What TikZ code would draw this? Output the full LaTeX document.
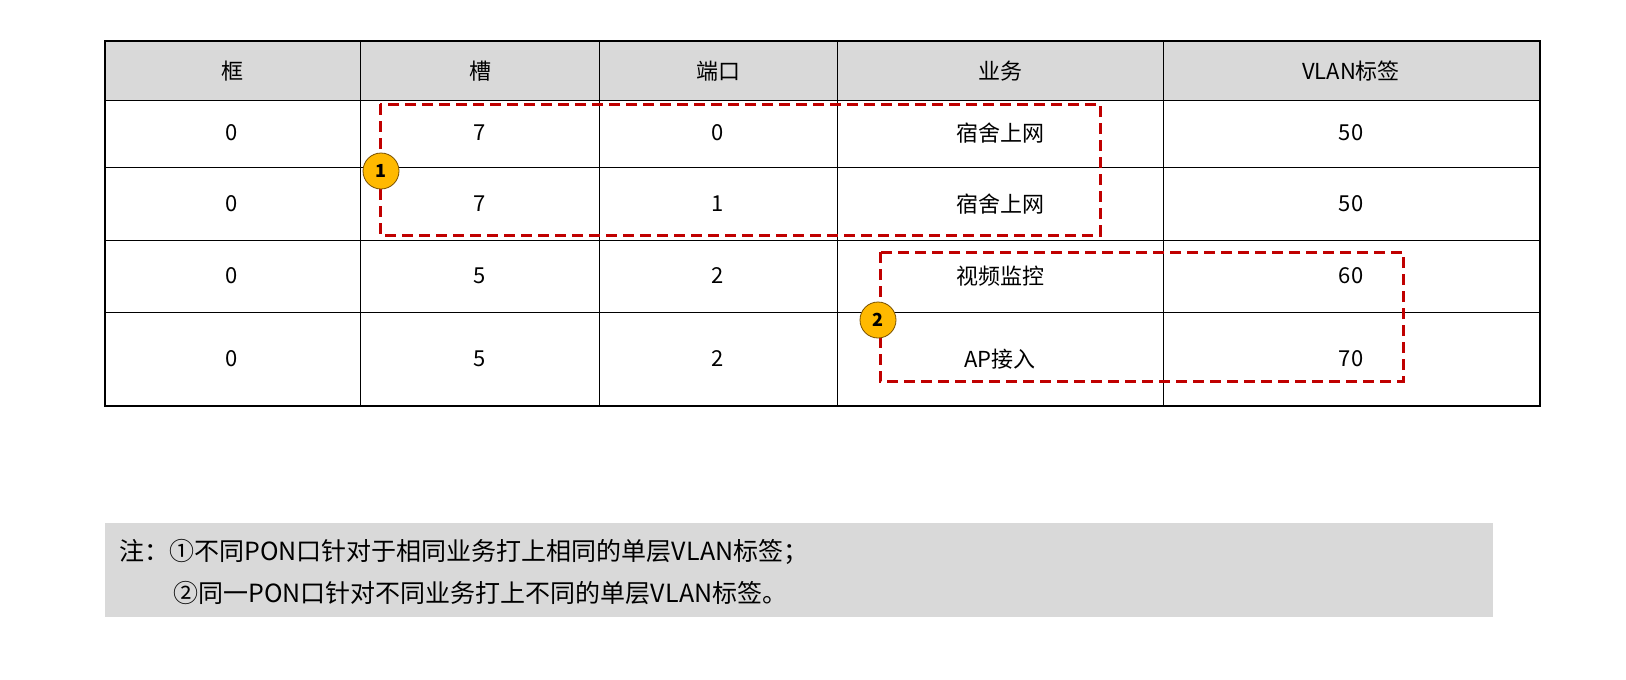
\documentclass[tikz,border=0pt]{standalone}
\usepackage{fontspec}
\setmainfont{Noto Sans CJK SC}
\begin{document}
\begin{tikzpicture}[x=1pt,y=-1pt,
  cell/.style={font=\fontsize{22}{26}\selectfont,anchor=center},
  dbox/.style={draw={rgb,255:red,192;green,0;blue,0},line width=3pt,dash pattern=on 11pt off 6pt},
  badge/.style={circle,draw={rgb,255:red,120;green,80;blue,0},line width=0.8pt,fill={rgb,255:red,255;green,185;blue,0},minimum size=36pt,inner sep=0pt,font=\bfseries\fontsize{18}{18}\selectfont}]
\useasboundingbox (0,0) rectangle (1626,680);
\fill[gray!30] (105,41) rectangle (1540,100);
\foreach \y in {100,167,240,312} \draw[line width=1pt] (105,\y) -- (1540,\y);
\foreach \x in {360,599,837,1163} \draw[line width=1pt] (\x,41) -- (\x,406);
\draw[line width=2.6pt] (105,41) rectangle (1540,406);
\node[cell] (h1) at (232,71) {框};
\node[cell] (h2) at (480,71) {槽};
\node[cell] (h3) at (718,71) {端口};
\node[cell] (h4) at (1000,71) {业务};
\node[cell] (h5) at (1351,71) {VLAN标签};
\foreach \r/\y/\a/\b/\c/\d/\e in {1/133/0/7/0/宿舍上网/50, 2/204/0/7/1/宿舍上网/50, 3/276/0/5/2/视频监控/60, 4/359/0/5/2/AP接入/70}{
  \node[cell] (r\r a) at (232,\y) {\a};
  \node[cell] (r\r b) at (480,\y) {\b};
  \node[cell] (r\r c) at (718,\y) {\c};
  \node[cell] (r\r d) at (1000,\y) {\d};
  \node[cell] (r\r e) at (1351,\y) {\e};
}
\draw[dbox] (380,104) rectangle (1100,235);
\draw[dbox] (880,252) rectangle (1403,381);
\node[badge] (b1) at (381,171) {1};
\node[badge] (b2) at (878,320) {2};
\fill[gray!30] (105,523) rectangle (1493,617);
\node[anchor=west,font=\fontsize{25}{28}\selectfont] (n1) at (116,552) {注：①不同PON口针对于相同业务打上相同的单层VLAN标签；};
\node[anchor=west,font=\fontsize{25}{28}\selectfont] (n2) at (170,593) {②同一PON口针对不同业务打上不同的单层VLAN标签。};
\end{tikzpicture}
\end{document}
